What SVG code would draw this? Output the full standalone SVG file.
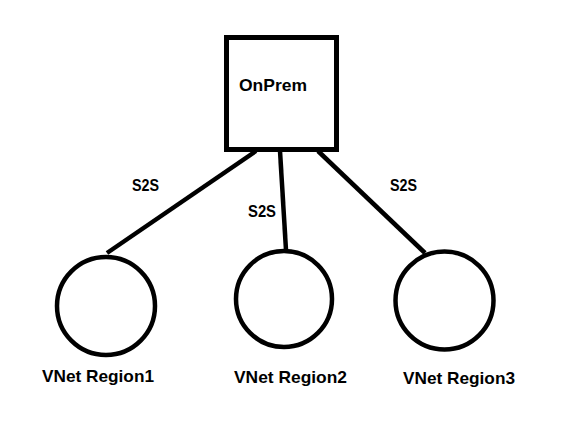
<svg xmlns="http://www.w3.org/2000/svg" width="580" height="426" viewBox="0 0 580 426">
<style>
.shape{fill:#fff;stroke:#000;}
.edge{stroke:#000;stroke-width:4.5;fill:none;}
text{font-family:"Liberation Sans",Arial,sans-serif;font-weight:bold;fill:#000;}
.lbl{font-size:16px;}
.nm{font-size:17px;}
</style>
<rect width="580" height="426" fill="#fff"/>
<g id="connectors">
<line class="edge" x1="256" y1="151" x2="107" y2="253"/>
<line class="edge" x1="280" y1="151" x2="286" y2="250"/>
<line class="edge" x1="318" y1="151" x2="425" y2="253"/>
<text class="lbl" x="132" y="191" textLength="27" lengthAdjust="spacingAndGlyphs">S2S</text>
<text class="lbl" x="248" y="217" textLength="28" lengthAdjust="spacingAndGlyphs">S2S</text>
<text class="lbl" x="390" y="191" textLength="27" lengthAdjust="spacingAndGlyphs">S2S</text>
</g>
<g id="onprem">
<rect class="shape" x="226.5" y="37.5" width="110" height="112" stroke-width="5"/>
<text class="nm" x="239" y="91" textLength="68" lengthAdjust="spacingAndGlyphs">OnPrem</text>
</g>
<g id="region1">
<circle class="shape" cx="106" cy="306" r="49" stroke-width="4.5"/>
<text class="nm" x="42" y="382" textLength="112" lengthAdjust="spacingAndGlyphs">VNet Region1</text>
</g>
<g id="region2">
<circle class="shape" cx="284" cy="299" r="48" stroke-width="4.5"/>
<text class="nm" x="234" y="383" textLength="113" lengthAdjust="spacingAndGlyphs">VNet Region2</text>
</g>
<g id="region3">
<circle class="shape" cx="444.5" cy="300.5" r="49" stroke-width="4.5"/>
<text class="nm" x="403" y="384" textLength="112" lengthAdjust="spacingAndGlyphs">VNet Region3</text>
</g>
</svg>
